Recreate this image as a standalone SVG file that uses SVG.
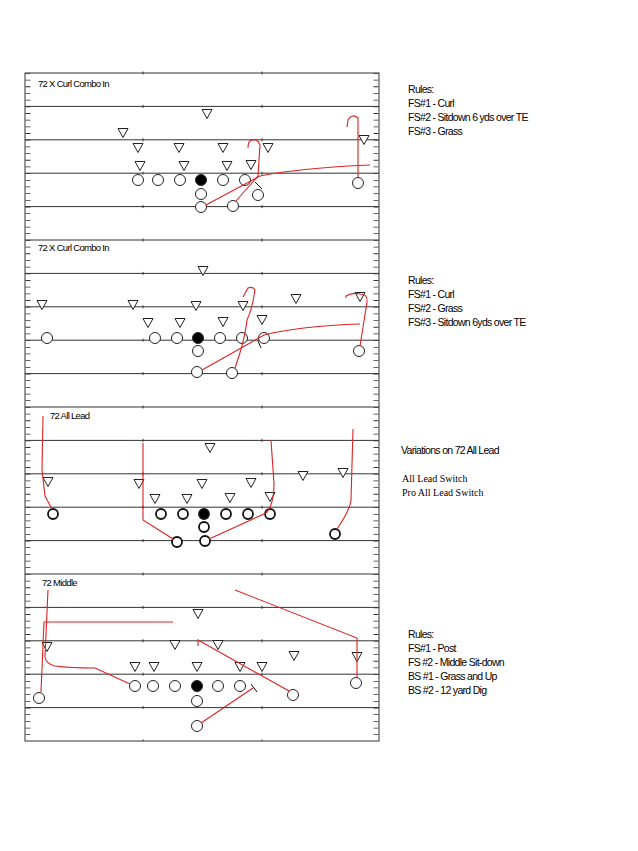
<svg xmlns="http://www.w3.org/2000/svg" xmlns:xlink="http://www.w3.org/1999/xlink" width="638" height="851" viewBox="0 0 638 851">
<style>
.yl{stroke:#333;stroke-width:1}
.tk{stroke:#333}
.d{fill:#fff;stroke:#222;stroke-width:1}
.p{fill:#fff;stroke:#222;stroke-width:1}
.pt{fill:#fff;stroke:#111;stroke-width:1.8}
.r{fill:none;stroke:#d22;stroke-width:1.1}
.s{stroke:#111;stroke-width:1}
.t{font-family:"Liberation Sans",Arial,sans-serif;font-size:9.5px;letter-spacing:-0.7px;fill:#000}
.rt{font-family:"Liberation Sans",Arial,sans-serif;font-size:10.5px;letter-spacing:-0.7px;fill:#000}
.sr{font-family:"Liberation Serif","Times New Roman",serif;font-size:10px;fill:#000}
</style>
<defs>
<path id="tri" d="M-5,-4.5 L5,-4.5 L0,4.5 Z"/>
</defs>
<rect width="638" height="851" fill="#fff"/>
<g id="field">
<rect x="25" y="73" width="354" height="668" fill="none" stroke="#333" stroke-width="1"/>
<g class="yl">
<line x1="25" x2="379" y1="106.4" y2="106.4"/><line x1="25" x2="379" y1="139.8" y2="139.8"/><line x1="25" x2="379" y1="173.2" y2="173.2"/><line x1="25" x2="379" y1="206.6" y2="206.6"/><line x1="25" x2="379" y1="240" y2="240"/><line x1="25" x2="379" y1="273.4" y2="273.4"/><line x1="25" x2="379" y1="306.8" y2="306.8"/><line x1="25" x2="379" y1="340.2" y2="340.2"/><line x1="25" x2="379" y1="373.6" y2="373.6"/><line x1="25" x2="379" y1="407" y2="407"/><line x1="25" x2="379" y1="440.4" y2="440.4"/><line x1="25" x2="379" y1="473.8" y2="473.8"/><line x1="25" x2="379" y1="507.2" y2="507.2"/><line x1="25" x2="379" y1="540.6" y2="540.6"/><line x1="25" x2="379" y1="574" y2="574"/><line x1="25" x2="379" y1="607.4" y2="607.4"/><line x1="25" x2="379" y1="640.8" y2="640.8"/><line x1="25" x2="379" y1="674.2" y2="674.2"/><line x1="25" x2="379" y1="707.6" y2="707.6"/>
</g>
<line class="tk" x1="28" x2="28" y1="73" y2="741" stroke-width="5" stroke-dasharray="0.8 5.88"/>
<line class="tk" x1="376" x2="376" y1="73" y2="741" stroke-width="5" stroke-dasharray="0.8 5.88"/>
<line class="tk" x1="143" x2="143" y1="71.5" y2="741" stroke-dasharray="3 30.4"/>
<line class="tk" x1="262" x2="262" y1="71.5" y2="741" stroke-dasharray="3 30.4"/>
</g>
<g id="titles">
<text class="t" x="38" y="87">72 X Curl Combo In</text>
<text class="t" x="38" y="251">72 X Curl Combo In</text>
<text class="t" x="50" y="419">72 All Lead</text>
<text class="t" x="42" y="586">72 Middle</text>
</g>
<g id="play1">
<g class="d">
<use href="#tri" x="207" y="114"/><use href="#tri" x="123" y="133"/><use href="#tri" x="138" y="148"/><use href="#tri" x="179" y="148"/><use href="#tri" x="223" y="148"/><use href="#tri" x="268" y="148"/><use href="#tri" x="140" y="166"/><use href="#tri" x="184" y="166"/><use href="#tri" x="227" y="166"/><use href="#tri" x="251" y="165"/><use href="#tri" x="364" y="140"/>
</g>
<g class="p">
<circle cx="138" cy="180" r="5.5"/><circle cx="158" cy="180" r="5.5"/><circle cx="180" cy="180" r="5.5"/><circle cx="201" cy="180" r="5.5" fill="#000"/><circle cx="223" cy="180" r="5.5"/><circle cx="245" cy="180" r="5.5"/><circle cx="201" cy="194" r="5.5"/><circle cx="258" cy="195" r="5.5"/><circle cx="201" cy="207" r="5.5"/><circle cx="233" cy="206" r="5.5"/><circle cx="358" cy="183" r="5.5"/>
</g>
</g>
<g id="play2">
<g class="d">
<use href="#tri" x="203" y="271"/><use href="#tri" x="42" y="305"/><use href="#tri" x="133" y="305"/><use href="#tri" x="196" y="306"/><use href="#tri" x="243" y="306"/><use href="#tri" x="296" y="299"/><use href="#tri" x="360" y="297"/><use href="#tri" x="148" y="323"/><use href="#tri" x="180" y="323"/><use href="#tri" x="223" y="322"/><use href="#tri" x="262" y="320"/>
</g>
<g class="p">
<circle cx="47" cy="338" r="5.5"/><circle cx="155" cy="338" r="5.5"/><circle cx="177" cy="338" r="5.5"/><circle cx="198" cy="338" r="5.5" fill="#000"/><circle cx="220" cy="338" r="5.5"/><circle cx="242" cy="338" r="5.5"/><circle cx="264" cy="338" r="5.5"/><circle cx="198" cy="351" r="5.5"/><circle cx="359" cy="351" r="5.5"/><circle cx="197" cy="372" r="5.5"/><circle cx="232" cy="373" r="5.5"/>
</g>
</g>
<g id="play3">
<g class="d">
<use href="#tri" x="210" y="448"/><use href="#tri" x="48" y="482"/><use href="#tri" x="139" y="484"/><use href="#tri" x="202" y="484"/><use href="#tri" x="251" y="483"/><use href="#tri" x="303" y="476"/><use href="#tri" x="343" y="473"/><use href="#tri" x="155" y="499"/><use href="#tri" x="187" y="499"/><use href="#tri" x="230" y="498"/><use href="#tri" x="270" y="497"/>
</g>
<g class="pt">
<circle cx="53" cy="514" r="5"/><circle cx="161" cy="514" r="5"/><circle cx="183" cy="514" r="5"/><circle cx="204" cy="514" r="5" fill="#000"/><circle cx="226" cy="514" r="5"/><circle cx="248" cy="514" r="5"/><circle cx="270" cy="514" r="5"/><circle cx="204" cy="527" r="5"/><circle cx="335" cy="534" r="5"/><circle cx="177" cy="542" r="5"/><circle cx="205" cy="541" r="5"/>
</g>
</g>
<g id="play4">
<g class="d">
<use href="#tri" x="198" y="614"/><use href="#tri" x="47" y="647"/><use href="#tri" x="175" y="645"/><use href="#tri" x="218" y="645"/><use href="#tri" x="294" y="656"/><use href="#tri" x="357" y="657"/><use href="#tri" x="135" y="667"/><use href="#tri" x="154" y="667"/><use href="#tri" x="197" y="667"/><use href="#tri" x="240" y="667"/><use href="#tri" x="262" y="667"/>
</g>
<g class="p">
<circle cx="39" cy="698" r="5.5"/><circle cx="135" cy="686" r="5.5"/><circle cx="153" cy="686" r="5.5"/><circle cx="175" cy="686" r="5.5"/><circle cx="197" cy="686" r="5.5" fill="#000"/><circle cx="218" cy="686" r="5.5"/><circle cx="240" cy="686" r="5.5"/><circle cx="197" cy="701" r="5.5"/><circle cx="293" cy="695" r="5.5"/><circle cx="356" cy="683" r="5.5"/><circle cx="197" cy="726" r="5.5"/>
</g>
</g>
<g id="connectors">
<g class="r">
<path d="M206,205 L260,176 Q300,168 370,165"/>
<path d="M236,201 L258,176 L260,145 Q257,137 250,141 Q248,143 248,148"/>
<path d="M358,177 L358,118 Q352,113 348,120 L347,127"/>
<path d="M202,370 L264,335 Q300,326 360,324"/>
<path d="M235,368 Q245,340 247,320 Q252,310 255,290 Q253,286 248,288 L243,297"/>
<path d="M360,346 L367,302 Q368,294 360,294 Q352,292 346,296 L346,298"/>
<path d="M52,509 L45,496 L42,470 L43,416"/>
<path d="M173,539 L143,520 L143,443"/>
<path d="M209,539 L266,513 Q274,505 274,484 L271,440"/>
<path d="M337,529 Q350,510 351,500 L353,429"/>
<path d="M41,692 L44,622 L173,622"/>
<path d="M48,590 L45,657 Q46,664 55,666 Q70,668 95,668 L130,684"/>
<path d="M235,590 L357,638 L357,678"/>
<path d="M289,691 L198,640 L198,646"/>
<path d="M201,723 L253,688"/>
</g>
<g class="s">
<line x1="255" y1="182" x2="262" y2="189"/>
<line x1="258" y1="341" x2="261" y2="348"/>
<line x1="251" y1="684" x2="257" y2="692"/>
</g>
</g>
<g id="notes">
<text class="rt" x="408" y="93">Rules:</text>
<text class="rt" x="408" y="107">FS#1 - Curl</text>
<text class="rt" x="408" y="121">FS#2 - Sitdown 6 yds over TE</text>
<text class="rt" x="408" y="135">FS#3 - Grass</text>
<text class="rt" x="408" y="284">Rules:</text>
<text class="rt" x="408" y="298">FS#1 - Curl</text>
<text class="rt" x="408" y="312">FS#2 - Grass</text>
<text class="rt" x="408" y="326">FS#3 - Sitdown 6yds over TE</text>
<text class="rt" x="401" y="454">Variations on 72 All Lead</text>
<text class="sr" x="402" y="482">All Lead Switch</text>
<text class="sr" x="402" y="496">Pro All Lead Switch</text>
<text class="rt" x="408" y="638">Rules:</text>
<text class="rt" x="408" y="652">FS#1 - Post</text>
<text class="rt" x="408" y="666">FS #2 - Middle Sit-down</text>
<text class="rt" x="408" y="680">BS #1 - Grass and Up</text>
<text class="rt" x="408" y="694">BS #2 - 12 yard Dig</text>
</g>
</svg>
